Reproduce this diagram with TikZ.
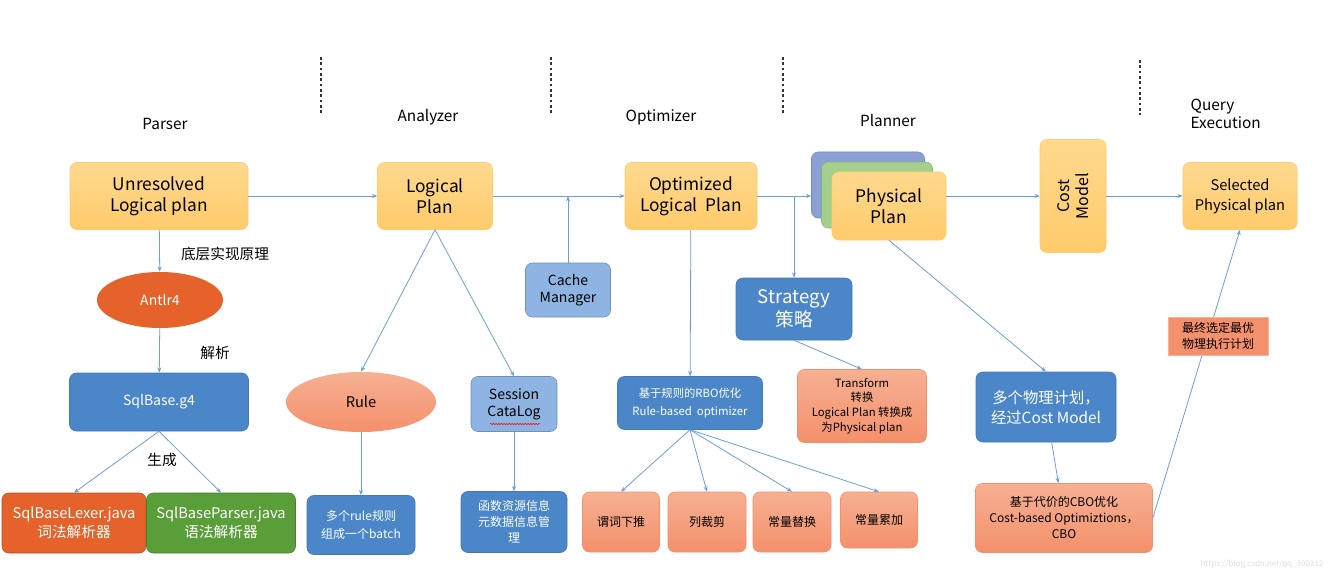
\documentclass[tikz,border=0pt]{standalone}
\usepackage{fontspec}
\setmainfont{Noto Sans CJK SC}
\usetikzlibrary{shapes.geometric,arrows.meta,decorations.pathmorphing}
\definecolor{ylw}{HTML}{FFCB6B}\definecolor{ylwt}{HTML}{FFD98F}
\definecolor{blu}{HTML}{4A86C8}\definecolor{lblu}{HTML}{8DB4E2}
\definecolor{sal}{HTML}{F4906C}\definecolor{salt}{HTML}{F6B092}
\definecolor{org}{HTML}{E5622A}\definecolor{grn}{HTML}{5A9E3A}
\definecolor{ln}{HTML}{6A9FDB}
\definecolor{stb}{HTML}{8C9FD6}\definecolor{stg}{HTML}{A5CF8C}
\tikzset{
 box/.style={rounded corners=5pt,align=center,inner sep=0pt},
 yb/.style={box,top color=ylwt,bottom color=ylw,draw=ylw,font=\fontsize{13}{16}\selectfont},
 bb/.style={box,fill=blu,draw=blu!90!black,text=white},
 lb/.style={box,fill=lblu,draw=lblu!80!black,font=\fontsize{10.5}{13}\selectfont},
 sb/.style={box,top color=salt,bottom color=sal,draw=sal,font=\fontsize{9}{11}\selectfont},
 ttl/.style={font=\fontsize{11.5}{14}\selectfont,align=left},
 lbl/.style={font=\fontsize{11}{13}\selectfont},
 ar/.style={draw=ln,line width=0.6pt,-{Stealth[length=4pt,width=3pt]}},
 dsh/.style={line width=1.4pt,dash pattern=on 2pt off 2pt,black!80}
}
\begin{document}
\begin{tikzpicture}[x=0.75pt,y=-0.75pt]
\useasboundingbox[fill=white](0,0) rectangle (1328,574);
% titles
\node[ttl] (tp) at (165,124) {Parser};
\node[ttl] (ta) at (428,117) {Analyzer};
\node[ttl] (to) at (661,117) {Optimizer};
\node[ttl] (tl) at (888,120) {Planner};
\node[ttl,anchor=west] (tq) at (1186,114) {Query\\Execution};
\foreach \x/\a/\b in {321/57/115,551/57/115,783/57/115,1140/60/115}
  \draw[dsh] (\x,\a) -- (\x,\b);
% main row
\node[yb,minimum width=178*0.75pt,minimum height=67*0.75pt] (ul) at (159,196) {Unresolved\\Logical plan};
\node[yb,minimum width=115*0.75pt,minimum height=67*0.75pt] (lp) at (435,196) {Logical\\Plan};
\node[yb,minimum width=132*0.75pt,minimum height=67*0.75pt] (ol) at (691,196) {Optimized\\Logical\ \ Plan};
\node[box,fill=stb,draw=stb!85!black,minimum width=113*0.75pt,minimum height=66*0.75pt] (pb) at (868,185) {};
\node[box,fill=stg,draw=stg!85!black,minimum width=111*0.75pt,minimum height=66*0.75pt] (pg) at (877,195) {};
\node[yb,minimum width=114*0.75pt,minimum height=68*0.75pt] (pp) at (889,206) {Physical\\Plan};
\node[yb,minimum width=66*0.75pt,minimum height=113*0.75pt] (cm) at (1073,196) {};
\node[font=\fontsize{12}{14}\selectfont,rotate=90,align=center] (cmt) at (1073,196) {Cost\\Model};
\node[yb,minimum width=114*0.75pt,minimum height=67*0.75pt,font=\fontsize{11}{15}\selectfont] (sp) at (1240,196) {Selected\\Physical plan};
% main arrows
\coordinate (j1) at (568,196);
\coordinate (j2) at (794,196);
\draw[ar] (ul) -- (lp);
\draw[ar] (lp) -- (ol);
\draw[ar] (ol.east) -- (pb.west|-ol.east);
\draw[ar] (pp.east|-cm) -- (cm);
\draw[ar] (cm) -- (sp);
% parser column
\node[lbl] (l1) at (225,254) {底层实现原理};
\node[ellipse,fill=org,text=white,minimum width=126*0.75pt,minimum height=56*0.75pt,inner sep=0pt,font=\fontsize{10.5}{12}\selectfont] (an) at (160,300) {Antlr4};
\node[lbl] (l2) at (215,353) {解析};
\node[bb,minimum width=179*0.75pt,minimum height=58*0.75pt,font=\fontsize{10.5}{12}\selectfont] (sq) at (159,402) {SqlBase.g4};
\node[lbl] (l3) at (162,460) {生成};
\node[box,fill=org,draw=org!80!black,text=white,minimum width=144*0.75pt,minimum height=60*0.75pt,font=\fontsize{11}{14}\selectfont] (lx) at (74,523) {SqlBaseLexer.java\\词法解析器};
\node[box,fill=grn,draw=grn!80!black,text=white,minimum width=149*0.75pt,minimum height=60*0.75pt,font=\fontsize{11}{14}\selectfont] (px) at (221,523) {SqlBaseParser.java\\语法解析器};
\draw[ar] (ul) -- (an);
\draw[ar] (an) -- (sq);
\draw[ar] (sq.south) -- (lx.north);
\draw[ar] (sq.south) -- (px.north);
% analyzer column
\node[ellipse,top color=salt,bottom color=sal,minimum width=150*0.75pt,minimum height=60*0.75pt,inner sep=0pt,font=\fontsize{11}{13}\selectfont] (ru) at (361,402) {Rule};
\node[bb,minimum width=108*0.75pt,minimum height=59*0.75pt,font=\fontsize{9}{13}\selectfont] (rb) at (361,525) {多个rule规则\\组成一个batch};
\node[lb,minimum width=86*0.75pt,minimum height=55*0.75pt] (sc) at (514,404) {Session\\CataLog};
\draw[red,line width=0.4pt,decorate,decoration={snake,amplitude=0.5pt,segment length=2pt}] (490,424) -- (540,424);
\node[bb,minimum width=106*0.75pt,minimum height=61*0.75pt,font=\fontsize{9}{12}\selectfont] (fz) at (514,522) {函数资源信息\\元数据信息管\\理};
\node[lb,minimum width=85*0.75pt,minimum height=54*0.75pt] (ca) at (568,290) {Cache\\Manager};
\draw[ar] (lp.south) -- (ru.north);
\draw[ar] (lp.south) -- (sc.north);
\draw[ar] (ru) -- (rb);
\draw[ar] (sc) -- (fz);
\draw[ar] (ca) -- (j1);
% optimizer column
\node[bb,minimum width=145*0.75pt,minimum height=53*0.75pt,font=\fontsize{8.5}{13}\selectfont] (rbo) at (690,403) {基于规则的RBO优化\\Rule-based\ \ optimizer};
\node[sb,minimum width=77*0.75pt,minimum height=60*0.75pt] (k1) at (621,522) {谓词下推};
\node[sb,minimum width=78*0.75pt,minimum height=60*0.75pt] (k2) at (707,522) {列裁剪};
\node[sb,minimum width=78*0.75pt,minimum height=60*0.75pt] (k3) at (792,522) {常量替换};
\node[sb,minimum width=77*0.75pt,minimum height=56*0.75pt] (k4) at (879,520) {常量累加};
\draw[ar] (ol) -- (rbo);
\foreach \k in {k1,k2,k3,k4} \draw[ar] (rbo.south) -- (\k.north);
\node[bb,minimum width=116*0.75pt,minimum height=62*0.75pt,font=\fontsize{14}{17}\selectfont] (st) at (794,309) {Strategy\\策略};
\node[sb,minimum width=129*0.75pt,minimum height=73*0.75pt,font=\fontsize{8.5}{11}\selectfont] (tf) at (862,406) {Transform\\转换\\Logical Plan 转换成\\为Physical plan};
\draw[ar] (j2) -- (st);
\draw[ar] (st.south) -- (tf.north);
% planner column
\node[bb,minimum width=140*0.75pt,minimum height=70*0.75pt,font=\fontsize{11.5}{15}\selectfont] (mp) at (1046,407) {多个物理计划，\\经过Cost Model};
\node[sb,minimum width=177*0.75pt,minimum height=69*0.75pt,font=\fontsize{9}{12}\selectfont] (cbo) at (1064,518) {基于代价的CBO优化\\Cost-based Optimiztions，\\CBO};
\draw[ar] (pp.south) -- (mp.north);
\draw[ar] (mp) -- (cbo);
\draw[ar] (cbo.east) -- (sp.south);
\node[fill=sal,draw=sal!70,minimum width=100*0.75pt,minimum height=38*0.75pt,inner sep=0pt,align=center,font=\fontsize{9}{12}\selectfont] (zz) at (1218,336) {最终选定最优\\物理执行计划};
\node[text=black!12,font=\fontsize{6}{7}\selectfont,anchor=east] (wm) at (1328,564) {https://blog.csdn.net/qq\_300312};
\end{tikzpicture}
\end{document}
